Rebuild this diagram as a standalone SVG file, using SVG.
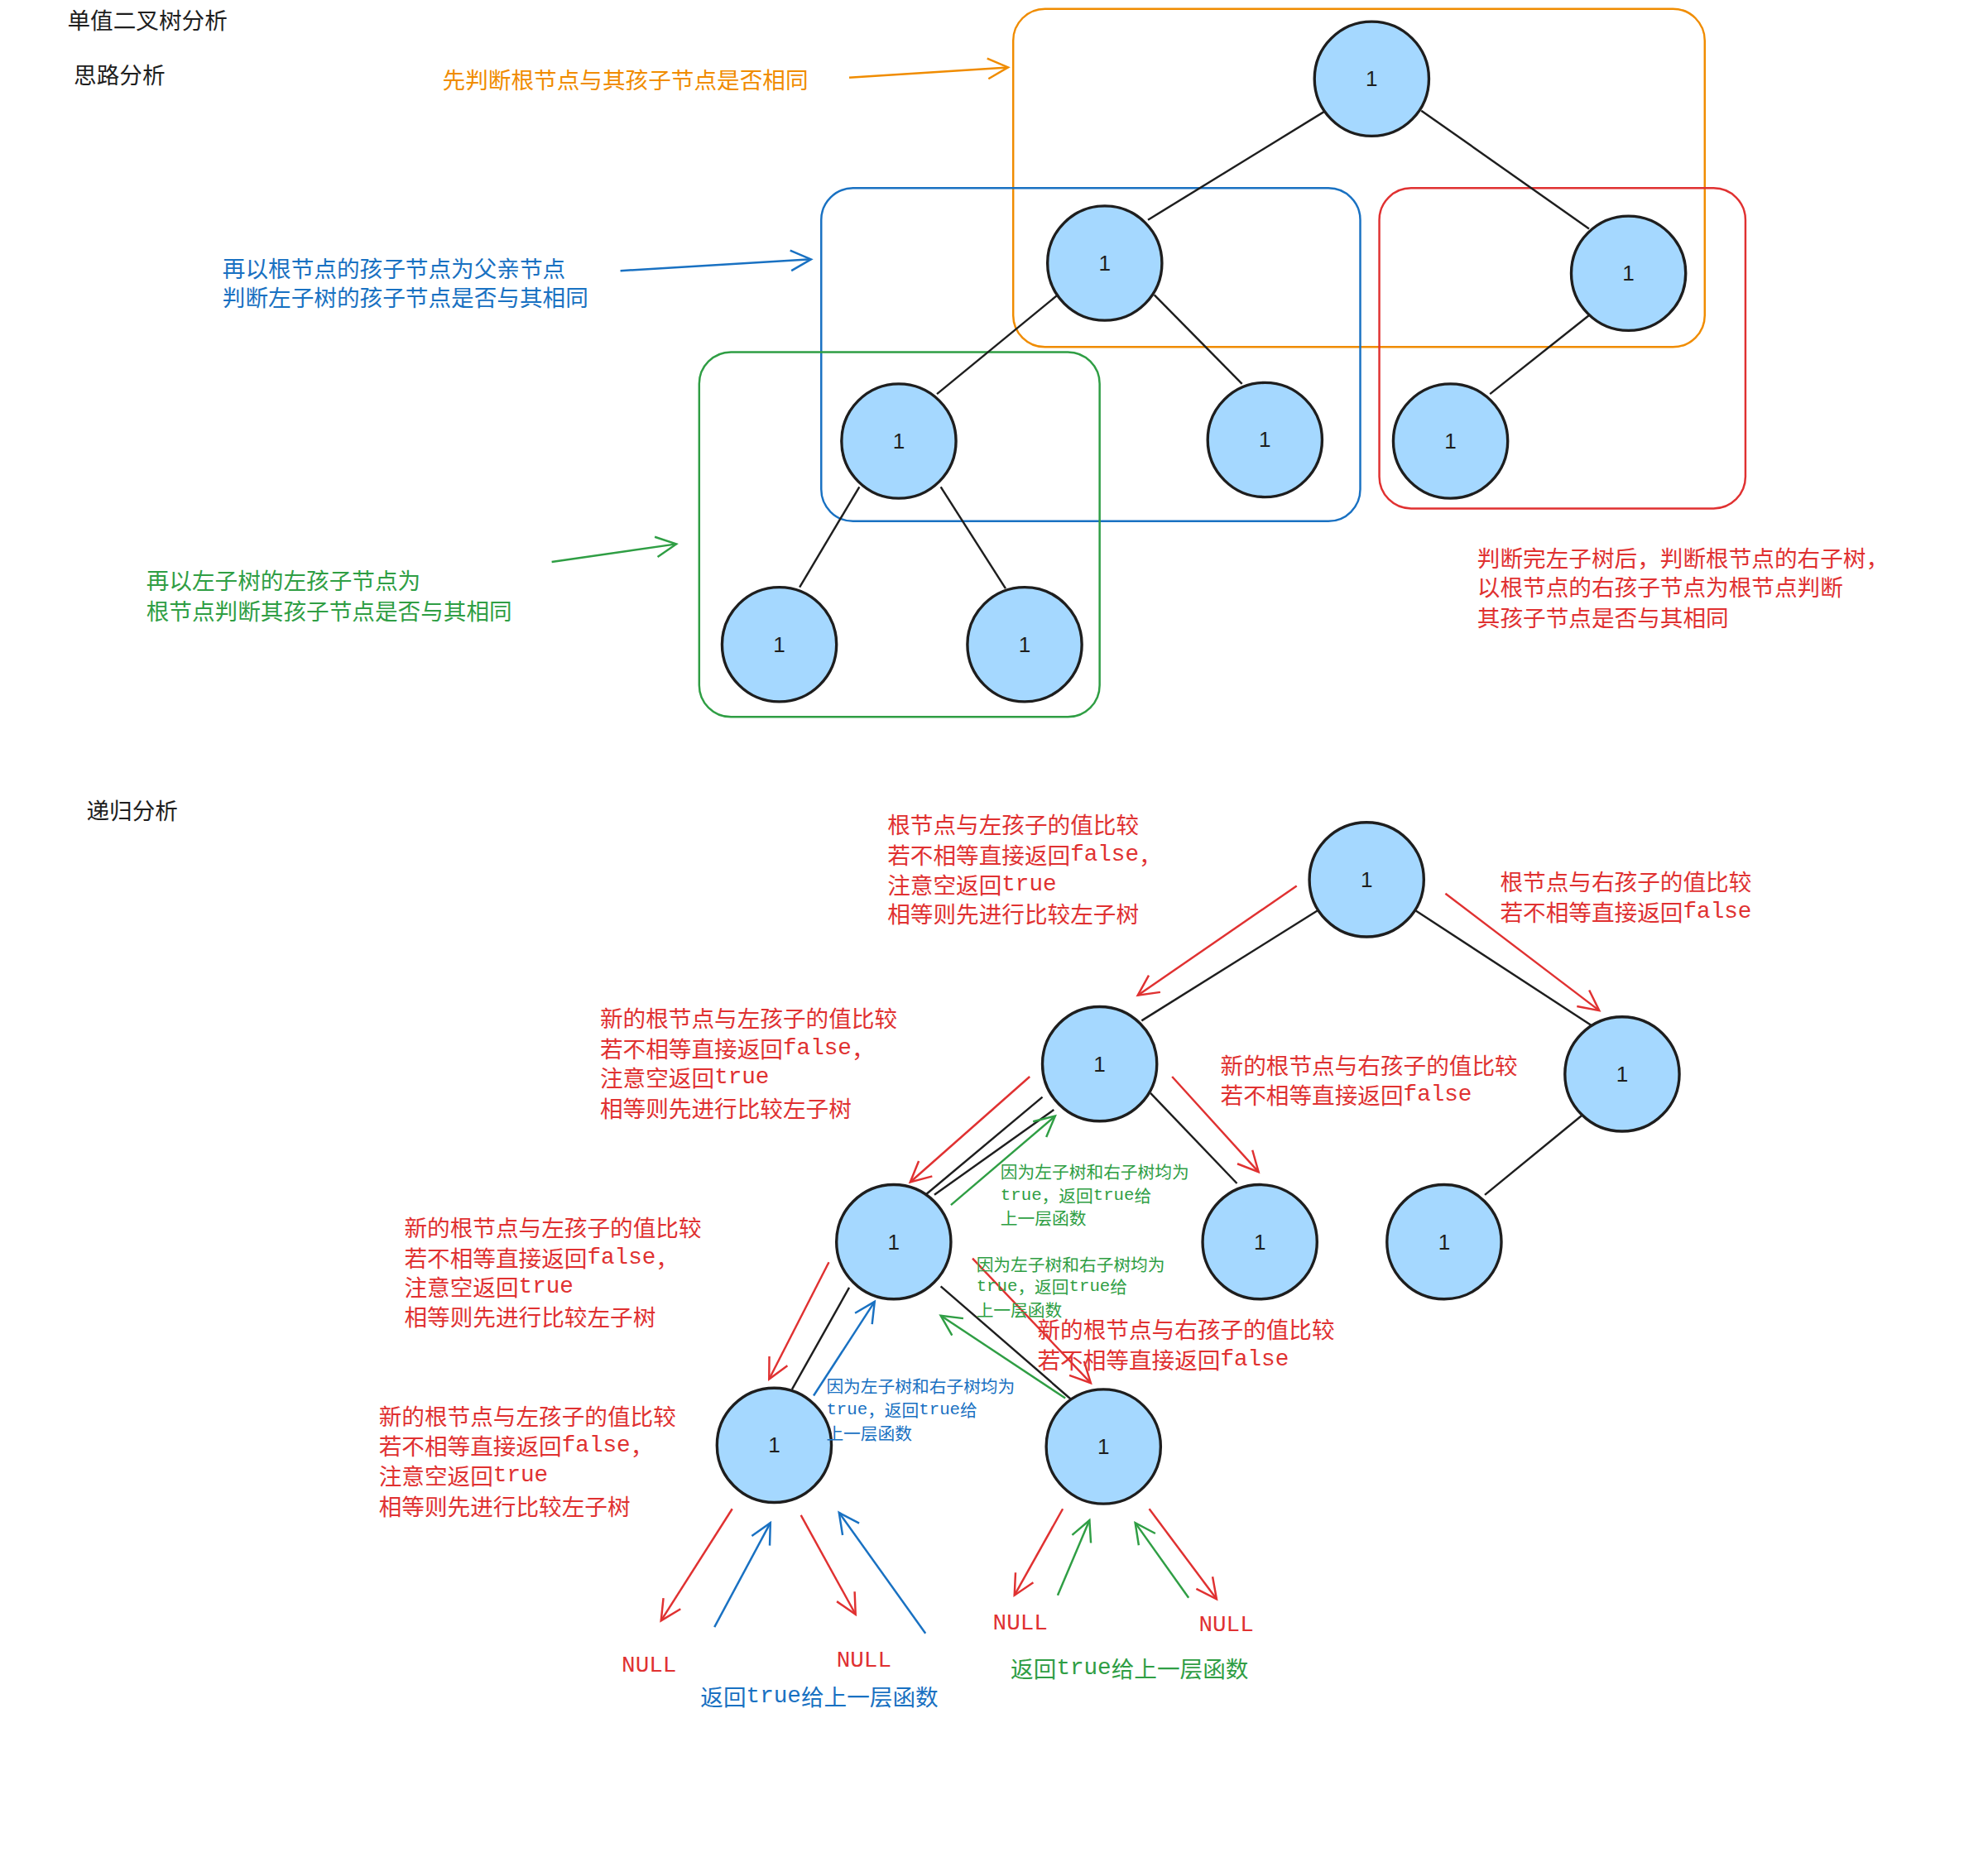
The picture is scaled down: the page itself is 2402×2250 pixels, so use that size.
<svg xmlns="http://www.w3.org/2000/svg" width="2402" height="2250" viewBox="0 0 2402 2250">
<style>
.n circle{fill:#a5d8ff;stroke:#1e1e1e;stroke-width:2.2}
.n text{font:17px "Liberation Sans",sans-serif;fill:#1e1e1e;text-anchor:middle;dominant-baseline:central}
.t{font-family:"Noto Sans CJK SC",sans-serif;font-size:18px;dominant-baseline:central}
.s{font-size:13.5px}
.m{font-family:"Liberation Mono","Noto Sans CJK SC",monospace}
.k{fill:#1e1e1e}.r{fill:#e03131}.g{fill:#2f9e44}.b{fill:#1971c2}.o{fill:#f08c00}
.e line{stroke:#1e1e1e;stroke-width:1.6}
.ar line{stroke-width:1.6;fill:none}
</style>
<defs>
<marker id="mr" viewBox="0 0 20 20" refX="18" refY="10" markerWidth="20" markerHeight="20" markerUnits="userSpaceOnUse" orient="auto"><path d="M2 2L18 10L2 18" fill="none" stroke="#e03131" stroke-width="1.6"/></marker>
<marker id="mg" viewBox="0 0 20 20" refX="18" refY="10" markerWidth="20" markerHeight="20" markerUnits="userSpaceOnUse" orient="auto"><path d="M2 2L18 10L2 18" fill="none" stroke="#2f9e44" stroke-width="1.6"/></marker>
<marker id="mb" viewBox="0 0 20 20" refX="18" refY="10" markerWidth="20" markerHeight="20" markerUnits="userSpaceOnUse" orient="auto"><path d="M2 2L18 10L2 18" fill="none" stroke="#1971c2" stroke-width="1.6"/></marker>
<marker id="mo" viewBox="0 0 20 20" refX="18" refY="10" markerWidth="20" markerHeight="20" markerUnits="userSpaceOnUse" orient="auto"><path d="M2 2L18 10L2 18" fill="none" stroke="#f08c00" stroke-width="1.6"/></marker>
</defs>
<rect width="2402" height="2250" fill="#fff"/>
<g transform="scale(1.536)">
<g id="boxes" fill="none" stroke-width="1.6">
<rect x="797" y="7" width="544" height="266" rx="25" stroke="#f08c00"/>
<rect x="646" y="148" width="424" height="262" rx="25" stroke="#1971c2"/>
<rect x="1085" y="148" width="288" height="252" rx="25" stroke="#e03131"/>
<rect x="550" y="277" width="315" height="287" rx="25" stroke="#2f9e44"/>
</g>
<g id="connectors">
<g class="e">
<line x1="1043" y1="87" x2="903" y2="173"/><line x1="1118" y1="87" x2="1250" y2="180"/>
<line x1="832" y1="232" x2="737" y2="310"/><line x1="908" y1="232" x2="977" y2="302"/>
<line x1="1250" y1="248" x2="1172" y2="310"/><line x1="676" y1="383" x2="629" y2="462"/>
<line x1="740" y1="383" x2="791" y2="463"/>
<line x1="1037" y1="716" x2="898" y2="803"/><line x1="1113" y1="716" x2="1260" y2="812"/>
<line x1="820" y1="863" x2="716" y2="950"/><line x1="829" y1="873" x2="735" y2="940"/>
<line x1="1245" y1="877" x2="1168" y2="940"/><line x1="905" y1="860" x2="973" y2="931"/>
<line x1="668" y1="1013" x2="623" y2="1093"/>
<line x1="740" y1="1012" x2="845" y2="1103"/>
</g>
<g class="ar">
<line x1="668" y1="61" x2="793" y2="53" stroke="#f08c00" marker-end="url(#mo)"/>
<line x1="488" y1="213" x2="638" y2="204" stroke="#1971c2" marker-end="url(#mb)"/>
<line x1="434" y1="442" x2="532" y2="428" stroke="#2f9e44" marker-end="url(#mg)"/>
<g stroke="#e03131">
<line x1="1020" y1="697" x2="895" y2="783" marker-end="url(#mr)"/>
<line x1="1137" y1="703" x2="1258" y2="795" marker-end="url(#mr)"/>
<line x1="810" y1="847" x2="716" y2="930" marker-end="url(#mr)"/>
<line x1="922" y1="847" x2="990" y2="922" marker-end="url(#mr)"/>
<line x1="652" y1="993" x2="605" y2="1085" marker-end="url(#mr)"/>
<line x1="765" y1="990" x2="858" y2="1088" marker-end="url(#mr)"/>
<line x1="576" y1="1187" x2="520" y2="1275" marker-end="url(#mr)"/>
<line x1="630" y1="1192" x2="673" y2="1270" marker-end="url(#mr)"/>
<line x1="836" y1="1187" x2="798" y2="1255" marker-end="url(#mr)"/>
<line x1="904" y1="1187" x2="957" y2="1258" marker-end="url(#mr)"/>
</g>
<g stroke="#2f9e44">
<line x1="748" y1="948" x2="830" y2="878" marker-end="url(#mg)"/>
<line x1="838" y1="1100" x2="740" y2="1035" marker-end="url(#mg)"/>
<line x1="832" y1="1255" x2="857" y2="1196" marker-end="url(#mg)"/>
<line x1="935" y1="1257" x2="893" y2="1198" marker-end="url(#mg)"/>
</g>
<g stroke="#1971c2">
<line x1="640" y1="1098" x2="688" y2="1024" marker-end="url(#mb)"/>
<line x1="562" y1="1280" x2="606" y2="1198" marker-end="url(#mb)"/>
<line x1="728" y1="1285" x2="660" y2="1190" marker-end="url(#mb)"/>
</g>
</g>
</g>
<g id="n1" class="n"><circle cx="1079" cy="62" r="45"/><text x="1079" y="62">1</text></g>
<g id="n2" class="n"><circle cx="869" cy="207" r="45"/><text x="869" y="207">1</text></g>
<g id="n3" class="n"><circle cx="1281" cy="215" r="45"/><text x="1281" y="215">1</text></g>
<g id="n4" class="n"><circle cx="707" cy="347" r="45"/><text x="707" y="347">1</text></g>
<g id="n5" class="n"><circle cx="995" cy="346" r="45"/><text x="995" y="346">1</text></g>
<g id="n6" class="n"><circle cx="1141" cy="347" r="45"/><text x="1141" y="347">1</text></g>
<g id="n7" class="n"><circle cx="613" cy="507" r="45"/><text x="613" y="507">1</text></g>
<g id="n8" class="n"><circle cx="806" cy="507" r="45"/><text x="806" y="507">1</text></g>
<g id="m1" class="n"><circle cx="1075" cy="692" r="45"/><text x="1075" y="692">1</text></g>
<g id="m2" class="n"><circle cx="865" cy="837" r="45"/><text x="865" y="837">1</text></g>
<g id="m3" class="n"><circle cx="1276" cy="845" r="45"/><text x="1276" y="845">1</text></g>
<g id="m4" class="n"><circle cx="703" cy="977" r="45"/><text x="703" y="977">1</text></g>
<g id="m5" class="n"><circle cx="991" cy="977" r="45"/><text x="991" y="977">1</text></g>
<g id="m6" class="n"><circle cx="1136" cy="977" r="45"/><text x="1136" y="977">1</text></g>
<g id="m7" class="n"><circle cx="609" cy="1137" r="45"/><text x="609" y="1137">1</text></g>
<g id="m8" class="n"><circle cx="868" cy="1138" r="45"/><text x="868" y="1138">1</text></g>
<g id="texts" class="t">
<text x="53" y="15" class="k">单值二叉树分析</text>
<text x="58" y="58" class="k">思路分析</text>
<text x="68" y="637" class="k">递归分析</text>
<text x="348" y="62" class="o">先判断根节点与其孩子节点是否相同</text>
<text class="b"><tspan x="175" y="210">再以根节点的孩子节点为父亲节点</tspan><tspan x="175" y="233">判断左子树的孩子节点是否与其相同</tspan></text>
<text class="g"><tspan x="115" y="456">再以左子树的左孩子节点为</tspan><tspan x="115" y="480">根节点判断其孩子节点是否与其相同</tspan></text>
<text class="r"><tspan x="1162" y="438">判断完左子树后，判断根节点的右子树，</tspan><tspan x="1162" y="461">以根节点的右孩子节点为根节点判断</tspan><tspan x="1162" y="485">其孩子节点是否与其相同</tspan></text>
<text class="r"><tspan x="698" y="648">根节点与左孩子的值比较</tspan><tspan x="698" y="672">若不相等直接返回<tspan class="m">false</tspan>，</tspan><tspan x="698" y="695">注意空返回<tspan class="m">true</tspan></tspan><tspan x="698" y="718">相等则先进行比较左子树</tspan></text>
<text class="r"><tspan x="1180" y="693">根节点与右孩子的值比较</tspan><tspan x="1180" y="717">若不相等直接返回<tspan class="m">false</tspan></tspan></text>
<text class="r"><tspan x="472" y="800">新的根节点与左孩子的值比较</tspan><tspan x="472" y="824">若不相等直接返回<tspan class="m">false</tspan>，</tspan><tspan x="472" y="847">注意空返回<tspan class="m">true</tspan></tspan><tspan x="472" y="871">相等则先进行比较左子树</tspan></text>
<text class="r"><tspan x="960" y="837">新的根节点与右孩子的值比较</tspan><tspan x="960" y="861">若不相等直接返回<tspan class="m">false</tspan></tspan></text>
<text class="g s"><tspan x="787" y="921">因为左子树和右子树均为</tspan><tspan x="787" y="940"><tspan class="m">true</tspan>，返回<tspan class="m">true</tspan>给</tspan><tspan x="787" y="958">上一层函数</tspan></text>
<text class="r"><tspan x="318" y="965">新的根节点与左孩子的值比较</tspan><tspan x="318" y="989">若不相等直接返回<tspan class="m">false</tspan>，</tspan><tspan x="318" y="1012">注意空返回<tspan class="m">true</tspan></tspan><tspan x="318" y="1035">相等则先进行比较左子树</tspan></text>
<text class="g s"><tspan x="768" y="994">因为左子树和右子树均为</tspan><tspan x="768" y="1012"><tspan class="m">true</tspan>，返回<tspan class="m">true</tspan>给</tspan><tspan x="768" y="1030">上一层函数</tspan></text>
<text class="r"><tspan x="816" y="1045">新的根节点与右孩子的值比较</tspan><tspan x="816" y="1069">若不相等直接返回<tspan class="m">false</tspan></tspan></text>
<text class="b s"><tspan x="650" y="1090">因为左子树和右子树均为</tspan><tspan x="650" y="1109"><tspan class="m">true</tspan>，返回<tspan class="m">true</tspan>给</tspan><tspan x="650" y="1127">上一层函数</tspan></text>
<text class="r"><tspan x="298" y="1113">新的根节点与左孩子的值比较</tspan><tspan x="298" y="1137">若不相等直接返回<tspan class="m">false</tspan>，</tspan><tspan x="298" y="1160">注意空返回<tspan class="m">true</tspan></tspan><tspan x="298" y="1184">相等则先进行比较左子树</tspan></text>
<text x="489" y="1310" class="r m">NULL</text>
<text x="658" y="1306" class="r m">NULL</text>
<text x="781" y="1277" class="r m">NULL</text>
<text x="943" y="1278" class="r m">NULL</text>
<text x="551" y="1334" class="b">返回<tspan class="m">true</tspan>给上一层函数</text>
<text x="795" y="1312" class="g">返回<tspan class="m">true</tspan>给上一层函数</text>
</g>
</g>
</svg>
